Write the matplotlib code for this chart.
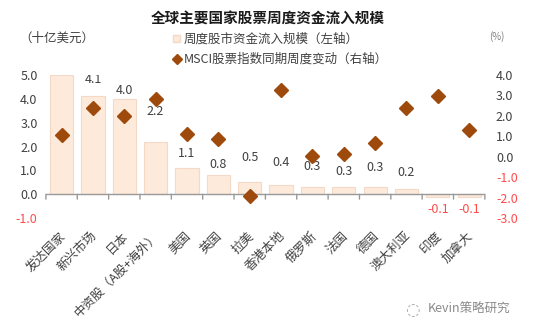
import matplotlib
matplotlib.use("Agg")
import matplotlib.pyplot as plt
import numpy as np
from matplotlib.lines import Line2D
from matplotlib.patches import Patch

plt.rcParams['font.family'] = ['Noto Sans CJK SC', 'DejaVu Sans']

categories = ['发达国家', '新兴市场', '日本', '中资股（A股+海外）', '美国', '英国', '拉美',
              '香港本地', '俄罗斯', '法国', '德国', '澳大利亚', '印度', '加拿大']
flows = [5.0, 4.1, 4.0, 2.2, 1.1, 0.8, 0.5, 0.4, 0.3, 0.3, 0.3, 0.2, -0.1, -0.1]
msci_change = [1.05, 2.4, 1.97, 2.8, 1.13, 0.87, -1.91, 3.25, 0.02, 0.13, 0.67, 2.39, 2.96, 1.29]
left_ticks = [-1.0, 0.0, 1.0, 2.0, 3.0, 4.0, 5.0]
right_ticks = [-3.0, -2.0, -1.0, 0.0, 1.0, 2.0, 3.0, 4.0]

# label placement offsets (style only)
label_offsets = [0.5, 0.7, 0.35, 1.27, 0.62, 0.43, 1.03, 0.92, 0.88, 0.67, 0.83, 0.7, -0.52, -0.52]

bar_face = '#FDEADB'
bar_edge = '#F3D9C6'
dia_color = '#9E4A0C'
txt = '#404040'
neg = '#FF4B4B'

fig = plt.figure(figsize=(5.34, 3.33), dpi=100)
ax = fig.add_axes([0.086, 0.345, 0.822, 0.43])
ax2 = ax.twinx()

x = np.arange(len(categories))
ax.bar(x, flows, width=0.74, color=bar_face, edgecolor=bar_edge, linewidth=0.8, zorder=2)
ax.set_xlim(-0.5, len(categories) - 0.5)
ax.set_ylim(-1, 5)
ax.set_yticks(left_ticks)
ax.set_yticklabels([f'{v:.1f}' for v in left_ticks], fontsize=9)
for lab, v in zip(ax.get_yticklabels(), left_ticks):
    lab.set_color(neg if v < 0 else txt)
ax.tick_params(axis='y', length=0, pad=6)
for s in ['top', 'right', 'left', 'bottom']:
    ax.spines[s].set_visible(False)
ax.axhline(0, color='#9A9A9A', linewidth=1.0, zorder=3)

ax.set_xticks([])
# category boundary tick marks at the zero line
for b in np.arange(-0.5, len(categories), 1.0):
    ax.annotate('', xy=(b, 0), xycoords='data', xytext=(0, -3.5), textcoords='offset points',
                arrowprops=dict(arrowstyle='-', color='#9A9A9A', lw=1.0, shrinkA=0, shrinkB=0),
                annotation_clip=False)

# category labels
for xi, c in zip(x, categories):
    ax.annotate(c, xy=(xi - 0.08, 0), xycoords=('data', 'axes fraction'),
                xytext=(0, -8), textcoords='offset points', rotation=45,
                ha='right', va='top', fontsize=9, color=txt, rotation_mode='anchor',
                annotation_clip=False)

# bar value labels
for xi, v, off in zip(x, flows, label_offsets):
    ax.text(xi, v + off, f'{v:.1f}', ha='center', va='center', fontsize=9,
            color=neg if v < 0 else txt, clip_on=True, zorder=4)

ax2.plot(x, msci_change, linestyle='none', marker='D', markersize=7.5,
         color=dia_color, zorder=5)
ax2.set_ylim(-3, 4)
ax2.set_yticks(right_ticks)
ax2.set_yticklabels([f'{v:.1f}' for v in right_ticks], fontsize=9)
for lab, v in zip(ax2.get_yticklabels(), right_ticks):
    lab.set_color(neg if v < 0 else txt)
ax2.tick_params(axis='y', length=0, pad=8)
for s in ['top', 'right', 'left', 'bottom']:
    ax2.spines[s].set_visible(False)

# titles and units
fig.text(0.502, 0.945, '全球主要国家股票周度资金流入规模', ha='center', va='center',
         fontsize=10.5, fontweight='bold', color='#1a1a1a')
fig.text(0.037, 0.885, '（十亿美元）', ha='left', va='center', fontsize=9, color=txt)
fig.text(0.93, 0.89, '(%)', ha='center', va='center', fontsize=7, color='#808080')

# legend
handles = [Patch(facecolor=bar_face, edgecolor=bar_edge, label='周度股市资金流入规模（左轴）'),
           Line2D([], [], linestyle='none', marker='D', markersize=5, color=dia_color,
                  label='MSCI股票指数同期周度变动（右轴）')]
fig.legend(handles=handles, loc='upper left', bbox_to_anchor=(0.313, 0.92), frameon=False,
           fontsize=9, handlelength=0.5, handleheight=0.5, handletextpad=0.3,
           labelspacing=0.55, borderpad=0, labelcolor=txt)

# watermark
fig.text(0.955, 0.07, 'Kevin策略研究', ha='right', va='center', fontsize=9, color='#8a8a8a')
fig.text(0.772, 0.07, '◌', ha='center', va='center', fontsize=12, color='#aaaaaa',
         family=['DejaVu Sans'])

fig.savefig('out.png', dpi=100)
